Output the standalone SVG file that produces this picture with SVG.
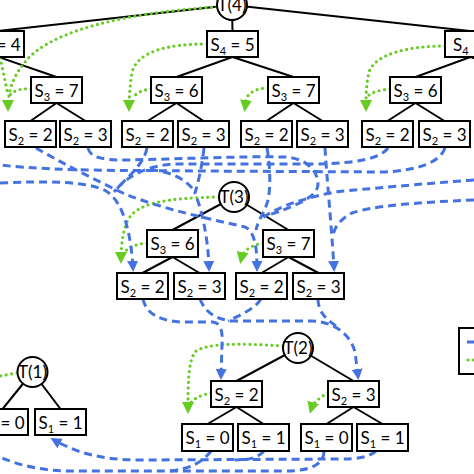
<svg xmlns="http://www.w3.org/2000/svg" width="474" height="474" viewBox="0 0 474 474">
<style>
.box{fill:#fff;stroke:#000;stroke-width:2}
.cir{fill:#fff;stroke:#000;stroke-width:2}
.edge{stroke:#000;stroke-width:2;fill:none}
.blue{fill:none;stroke:#4472e0;stroke-width:3;stroke-dasharray:8 5}
.green{fill:none;stroke:#66cc22;stroke-width:3.2;stroke-dasharray:0 5.5;stroke-linecap:round}
text{font-family:Lato,"Open Sans",sans-serif;font-size:17px;fill:#000;text-anchor:middle}
.sub{font-size:11px}
</style>
<defs>
<marker id="ab" viewBox="0 0 11 11" refX="7" refY="5.5" markerWidth="11" markerHeight="11" markerUnits="userSpaceOnUse" orient="auto"><path d="M0,0 L11,5.5 L0,11 z" fill="#4472e0"/></marker>
<marker id="ag" viewBox="0 0 12 12" refX="8" refY="6" markerWidth="12" markerHeight="12" markerUnits="userSpaceOnUse" orient="auto"><path d="M0,0 L12,6 L0,12 z" fill="#66cc22"/></marker>
</defs>

<g id="tree-edges">
<line class="edge" x1="232" y1="5" x2="-2" y2="31"/>
<line class="edge" x1="232" y1="5" x2="232.5" y2="31"/>
<line class="edge" x1="232" y1="5" x2="470" y2="31"/>
<line class="edge" x1="-1.5" y1="57" x2="56.5" y2="77"/>
<line class="edge" x1="232.5" y1="57" x2="176.5" y2="77"/>
<line class="edge" x1="232.5" y1="57" x2="293.5" y2="77"/>
<line class="edge" x1="470.5" y1="57" x2="415.5" y2="77"/>
<line class="edge" x1="470.5" y1="57" x2="527" y2="77"/>
<line class="edge" x1="56.5" y1="103" x2="30.5" y2="121"/>
<line class="edge" x1="56.5" y1="103" x2="85.5" y2="121"/>
<line class="edge" x1="176.5" y1="103" x2="147.5" y2="121"/>
<line class="edge" x1="176.5" y1="103" x2="203.5" y2="121"/>
<line class="edge" x1="293.5" y1="103" x2="266.5" y2="121"/>
<line class="edge" x1="293.5" y1="103" x2="322.5" y2="121"/>
<line class="edge" x1="415.5" y1="103" x2="387.5" y2="121"/>
<line class="edge" x1="415.5" y1="103" x2="444.5" y2="121"/>
<line class="edge" x1="234" y1="197" x2="172.5" y2="230"/>
<line class="edge" x1="234" y1="197" x2="288.5" y2="230"/>
<line class="edge" x1="172.5" y1="257" x2="142.5" y2="273"/>
<line class="edge" x1="172.5" y1="257" x2="199.5" y2="273"/>
<line class="edge" x1="288.5" y1="257" x2="261.5" y2="273"/>
<line class="edge" x1="288.5" y1="257" x2="318.5" y2="273"/>
<line class="edge" x1="298" y1="348" x2="236.5" y2="381"/>
<line class="edge" x1="298" y1="348" x2="353.5" y2="381"/>
<line class="edge" x1="236.5" y1="407" x2="207.5" y2="424"/>
<line class="edge" x1="236.5" y1="407" x2="263.5" y2="424"/>
<line class="edge" x1="353.5" y1="407" x2="326.5" y2="424"/>
<line class="edge" x1="353.5" y1="407" x2="382.5" y2="424"/>
<line class="edge" x1="32.5" y1="372" x2="2.5" y2="409"/>
<line class="edge" x1="32.5" y1="372" x2="60.5" y2="409"/>
</g>

<g id="connectors">
<!-- green: to leftmost leaf -->
<path class="green" d="M217,7 C130,12 50,30 25,62 C12,78 8,92 8,108" marker-end="url(#ag)"/>
<path class="green" d="M0,58 C3,70 6,85 8,95"/>
<path class="green" d="M31,89 C22,88 14,90 9,96"/>
<path class="green" d="M207,44 C165,44 138,52 132,72 C130,85 129,98 129,108" marker-end="url(#ag)"/>
<path class="green" d="M151,89 C142,90 136,93 133,98"/>
<path class="green" d="M268,88 C258,88 248,92 246,100 L245,108" marker-end="url(#ag)"/>
<path class="green" d="M445,46 C405,46 375,55 369,72 C366,85 366,97 366,108" marker-end="url(#ag)"/>
<path class="green" d="M390,89 C380,90 372,92 368,96"/>
<path class="green" d="M219,197 C165,198 135,203 127,222 C122,235 121,248 121,260" marker-end="url(#ag)"/>
<path class="green" d="M147,243 C135,244 127,248 123,254"/>
<path class="green" d="M263,243 C252,245 243,250 241,260" marker-end="url(#ag)"/>
<path class="green" d="M283,346 C240,343 205,343 195,352 C188,362 188,385 188,410" marker-end="url(#ag)"/>
<path class="green" d="M211,393 C200,395 193,399 190,404"/>
<path class="green" d="M328,393 C320,397 313,403 311,410" marker-end="url(#ag)"/>
<path class="green" d="M17,373 L0,376"/>

<!-- blue: T(4) leaves to T(3) leaves -->
<path class="blue" d="M36,148 C60,162 95,180 125,194 C165,210 215,220 245,227 C254,231 257,245 257,268" marker-end="url(#ab)"/>
<path class="blue" d="M88,148 C90,157 100,160 125,160 C180,159 240,156 285,157 C305,158 318,170 318,184 C318,198 292,207 266,216"/>
<path class="blue" d="M147,148 C144,165 126,178 114,192"/>
<path class="blue" d="M0,183 C45,181 88,181 106,191 C124,202 131,235 133,268" marker-end="url(#ab)"/>
<path class="blue" d="M204,148 C202,165 199,180 195,193 C201,208 208,235 209,268" marker-end="url(#ab)"/>
<path class="blue" d="M445,148 C440,162 420,170 385,172 L200,171 C150,170 60,172 0,165"/>
<path class="blue" d="M150,170 C172,171 188,181 195,192"/>
<path class="blue" d="M388,148 C380,159 355,163 320,164 L175,164 C150,165 128,175 116,190"/>
<path class="blue" d="M267,148 C270,165 271,185 268,200 C265,212 258,220 256,230"/>
<path class="blue" d="M325,148 C327,180 331,220 334,268" marker-end="url(#ab)"/>
<path class="blue" d="M474,180 C420,184 365,189 335,192 C305,198 275,207 260,220"/>
<path class="blue" d="M474,200 C420,202 372,206 352,213 C340,219 334,228 333,236"/>

<!-- blue: T(3) leaves to T(2) -->
<path class="blue" d="M143,299 C146,314 160,321 182,322 L213,322 C221,323 223,332 222,345 L221,376" marker-end="url(#ab)"/>
<path class="blue" d="M200,299 C205,312 215,319 232,321 L312,321 C336,322 351,336 355,352 L358,376" marker-end="url(#ab)"/>
<path class="blue" d="M261,299 C255,309 240,315 228,321"/>
<path class="blue" d="M318,299 C318,310 324,318 336,326"/>

<!-- blue: T(2) leaves to T(1) -->
<path class="blue" d="M376,451 C368,458 356,459 340,459 L140,460 C100,460 75,452 54,440" marker-end="url(#ab)"/>
<path class="blue" d="M264,451 C258,458 248,460 235,460"/>
<path class="blue" d="M324,451 C324,465 310,471 285,471 L70,471 C45,471 20,466 0,457"/>
<path class="blue" d="M211,451 C203,462 190,469 170,471"/>
</g>

<g id="T4"><circle class="cir" cx="232" cy="5" r="15"/><text x="232" y="11">T(4)</text></g>
<g id="S4-4"><rect class="box" x="-27" y="31" width="51" height="26"/><text x="-1.5" y="51">S<tspan class="sub" dy="4">4</tspan><tspan dy="-4"> = 4</tspan></text></g>
<g id="S4-5"><rect class="box" x="207" y="31" width="51" height="26"/><text x="232.5" y="51">S<tspan class="sub" dy="4">4</tspan><tspan dy="-4"> = 5</tspan></text></g>
<g id="S4-r"><rect class="box" x="445" y="31" width="51" height="26"/><text x="453" y="51" style="text-anchor:start">S<tspan class="sub" dy="4">4</tspan><tspan dy="-4"> =</tspan></text></g>

<g id="S3-7a"><rect class="box" x="31" y="77" width="51" height="26"/><text x="56.5" y="97">S<tspan class="sub" dy="4">3</tspan><tspan dy="-4"> = 7</tspan></text></g>
<g id="S3-6a"><rect class="box" x="151" y="77" width="51" height="26"/><text x="176.5" y="97">S<tspan class="sub" dy="4">3</tspan><tspan dy="-4"> = 6</tspan></text></g>
<g id="S3-7b"><rect class="box" x="268" y="77" width="51" height="26"/><text x="293.5" y="97">S<tspan class="sub" dy="4">3</tspan><tspan dy="-4"> = 7</tspan></text></g>
<g id="S3-6b"><rect class="box" x="390" y="77" width="51" height="26"/><text x="415.5" y="97">S<tspan class="sub" dy="4">3</tspan><tspan dy="-4"> = 6</tspan></text></g>

<g id="L4-A"><rect class="box" x="5" y="121" width="51" height="26"/><text x="30.5" y="141">S<tspan class="sub" dy="4">2</tspan><tspan dy="-4"> = 2</tspan></text></g>
<g id="L4-B"><rect class="box" x="60" y="121" width="51" height="26"/><text x="85.5" y="141">S<tspan class="sub" dy="4">2</tspan><tspan dy="-4"> = 3</tspan></text></g>
<g id="L4-C"><rect class="box" x="122" y="121" width="51" height="26"/><text x="147.5" y="141">S<tspan class="sub" dy="4">2</tspan><tspan dy="-4"> = 2</tspan></text></g>
<g id="L4-D"><rect class="box" x="178" y="121" width="51" height="26"/><text x="203.5" y="141">S<tspan class="sub" dy="4">2</tspan><tspan dy="-4"> = 3</tspan></text></g>
<g id="L4-E"><rect class="box" x="241" y="121" width="51" height="26"/><text x="266.5" y="141">S<tspan class="sub" dy="4">2</tspan><tspan dy="-4"> = 2</tspan></text></g>
<g id="L4-F"><rect class="box" x="297" y="121" width="51" height="26"/><text x="322.5" y="141">S<tspan class="sub" dy="4">2</tspan><tspan dy="-4"> = 3</tspan></text></g>
<g id="L4-G"><rect class="box" x="362" y="121" width="51" height="26"/><text x="387.5" y="141">S<tspan class="sub" dy="4">2</tspan><tspan dy="-4"> = 2</tspan></text></g>
<g id="L4-H"><rect class="box" x="419" y="121" width="51" height="26"/><text x="444.5" y="141">S<tspan class="sub" dy="4">2</tspan><tspan dy="-4"> = 3</tspan></text></g>

<g id="T3"><circle class="cir" cx="234" cy="197" r="15"/><text x="234" y="203">T(3)</text></g>
<g id="T3-S3-6"><rect class="box" x="147" y="230" width="51" height="27"/><text x="172.5" y="250">S<tspan class="sub" dy="4">3</tspan><tspan dy="-4"> = 6</tspan></text></g>
<g id="T3-S3-7"><rect class="box" x="263" y="230" width="51" height="27"/><text x="288.5" y="250">S<tspan class="sub" dy="4">3</tspan><tspan dy="-4"> = 7</tspan></text></g>
<g id="T3-a"><rect class="box" x="117" y="273" width="51" height="26"/><text x="142.5" y="293">S<tspan class="sub" dy="4">2</tspan><tspan dy="-4"> = 2</tspan></text></g>
<g id="T3-b"><rect class="box" x="174" y="273" width="51" height="26"/><text x="199.5" y="293">S<tspan class="sub" dy="4">2</tspan><tspan dy="-4"> = 3</tspan></text></g>
<g id="T3-c"><rect class="box" x="236" y="273" width="51" height="26"/><text x="261.5" y="293">S<tspan class="sub" dy="4">2</tspan><tspan dy="-4"> = 2</tspan></text></g>
<g id="T3-d"><rect class="box" x="293" y="273" width="51" height="26"/><text x="318.5" y="293">S<tspan class="sub" dy="4">2</tspan><tspan dy="-4"> = 3</tspan></text></g>

<g id="T2"><circle class="cir" cx="298" cy="348" r="15"/><text x="298" y="354">T(2)</text></g>
<g id="T2-S2-2"><rect class="box" x="211" y="381" width="51" height="26"/><text x="236.5" y="401">S<tspan class="sub" dy="4">2</tspan><tspan dy="-4"> = 2</tspan></text></g>
<g id="T2-S2-3"><rect class="box" x="328" y="381" width="51" height="26"/><text x="353.5" y="401">S<tspan class="sub" dy="4">2</tspan><tspan dy="-4"> = 3</tspan></text></g>
<g id="T2-a"><rect class="box" x="182" y="424" width="51" height="27"/><text x="207.5" y="444">S<tspan class="sub" dy="4">1</tspan><tspan dy="-4"> = 0</tspan></text></g>
<g id="T2-b"><rect class="box" x="238" y="424" width="51" height="27"/><text x="263.5" y="444">S<tspan class="sub" dy="4">1</tspan><tspan dy="-4"> = 1</tspan></text></g>
<g id="T2-c"><rect class="box" x="301" y="424" width="51" height="27"/><text x="326.5" y="444">S<tspan class="sub" dy="4">1</tspan><tspan dy="-4"> = 0</tspan></text></g>
<g id="T2-d"><rect class="box" x="357" y="424" width="51" height="27"/><text x="382.5" y="444">S<tspan class="sub" dy="4">1</tspan><tspan dy="-4"> = 1</tspan></text></g>

<g id="T1"><circle class="cir" cx="32.5" cy="372" r="15"/><text x="32.5" y="378">T(1)</text></g>
<g id="T1-a"><rect class="box" x="-23" y="409" width="51" height="26"/><text x="2.5" y="429">S<tspan class="sub" dy="4">1</tspan><tspan dy="-4"> = 0</tspan></text></g>
<g id="T1-b"><rect class="box" x="35" y="409" width="51" height="26"/><text x="60.5" y="429">S<tspan class="sub" dy="4">1</tspan><tspan dy="-4"> = 1</tspan></text></g>

<g id="legend">
<rect class="box" x="459" y="328" width="40" height="46"/>
<line class="blue" x1="467" y1="342" x2="482" y2="342"/>
<line class="green" x1="468" y1="360" x2="482" y2="360"/>
</g>
</svg>
